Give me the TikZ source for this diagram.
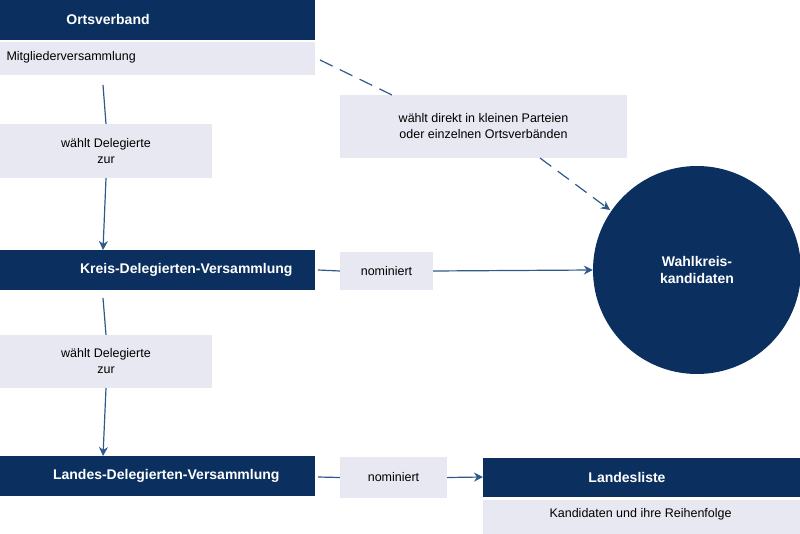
\documentclass[tikz,border=0pt]{standalone}
\usepackage{fontspec}
\setmainfont{Liberation Sans}
\usetikzlibrary{arrows.meta}
\definecolor{navy}{HTML}{0B3060}
\definecolor{pale}{HTML}{E8E8F2}
\definecolor{ln}{HTML}{2E5A8A}
\begin{document}
\begin{tikzpicture}[x=1pt,y=-1pt,
  dark/.style={fill=navy,draw=none,text=white,font=\fontsize{14}{16}\selectfont\bfseries},
  lite/.style={fill=pale,draw=none,text=black,font=\fontsize{12.5}{16}\selectfont,align=center},
  con/.style={draw=ln,line width=1.2pt},
  arr/.style={con,-{Stealth[length=9pt,width=9pt]}}]
\useasboundingbox (0,0) rectangle (800,534);
\clip (0,0) rectangle (800,534);
% Ortsverband
\fill[navy] (-200,0) rectangle (315,40);
\node[text=white,font=\fontsize{14}{16}\selectfont\bfseries] (ov) at (108,20) {Ortsverband};
\fill[pale] (-200,42) rectangle (315,75);
\node[font=\fontsize{12.5}{16}\selectfont,anchor=west] (mv) at (3,57) {Mitgliederversammlung};
\coordinate (mvb) at (103,85);
\coordinate (mvr) at (320,60);
% label 1
\node[lite,minimum width=212pt,minimum height=54pt] (l1) at (106,151) {wählt Delegierte\\zur};
% Kreis
\fill[navy] (-200,250) rectangle (315,290);
\node[text=white,font=\fontsize{14}{16}\selectfont\bfseries,anchor=east] (kdv) at (296,270) {Kreis-Delegierten-Versammlung};
\coordinate (kdvt) at (103,250);
\coordinate (kdvb) at (103,298);
\coordinate (kdvr) at (318,270);
\node[lite,minimum width=93pt,minimum height=38pt] (n1) at (386.5,271) {nominiert};
% label 2
\node[lite,minimum width=212pt,minimum height=53pt] (l2) at (106,361.5) {wählt Delegierte\\zur};
% Landes
\fill[navy] (-200,456) rectangle (315,496);
\node[text=white,font=\fontsize{14}{16}\selectfont\bfseries,anchor=east] (ldv) at (283,476) {Landes-Delegierten-Versammlung};
\coordinate (ldvt) at (103,456);
\coordinate (ldvr) at (318,477);
\node[lite,minimum width=107pt,minimum height=41pt] (n2) at (393.5,477.5) {nominiert};
% Landesliste
\fill[navy] (483,458) rectangle (1000,497);
\node[text=white,font=\fontsize{14}{16}\selectfont\bfseries] (ll) at (627,477) {Landesliste};
\coordinate (llw) at (483,477);
\fill[pale] (483,500) rectangle (1000,540);
\node[font=\fontsize{12.5}{16}\selectfont,anchor=west] (kr) at (546,514) {Kandidaten und ihre Reihenfolge};
% circle
\node[circle,fill=navy,minimum size=208pt,text=white,align=center,font=\fontsize{14}{17}\selectfont\bfseries] (wk) at (697,270) {Wahlkreis-\\kandidaten};
% direct label
\node[lite,minimum width=287pt,minimum height=63pt] (d) at (483.5,126.5) {wählt direkt in kleinen Parteien\\oder einzelnen Ortsverbänden};
% connectors
\draw[con] (mvb) -- (l1.north);
\draw[arr] (l1.south) -- (kdvt);
\draw[con] (kdvb) -- (l2.north);
\draw[arr] (l2.south) -- (ldvt);
\draw[con] (kdvr) -- (n1.west);
\draw[arr] (n1.east) -- (wk.west);
\draw[con] (ldvr) -- (n2.west);
\draw[arr] (n2.east) -- (llw);
\draw[con,dash pattern=on 14pt off 8pt] (mvr) -- (392,95);
\draw[arr,dash pattern=on 14pt off 8pt] (540,158) -- (610,210);
\end{tikzpicture}
\end{document}
